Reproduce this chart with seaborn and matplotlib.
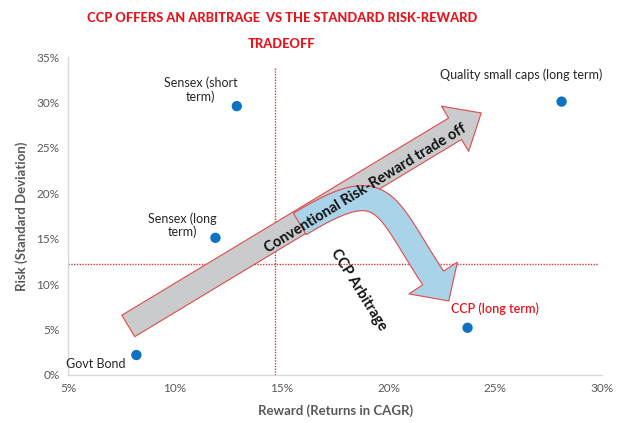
import matplotlib
matplotlib.use('Agg')
import matplotlib.pyplot as plt
import seaborn as sns
import pandas as pd
import numpy as np
from matplotlib.patches import FancyArrowPatch, Polygon
from matplotlib.ticker import FuncFormatter

# Data (percent)
assets = ['Govt Bond', 'Sensex (long\nterm)', 'Sensex (short\nterm)', 'CCP (long term)',
          'Quality small caps (long term)']
reward = [8.2, 11.9, 12.9, 23.7, 28.1]
risk = [2.2, 15.1, 29.6, 5.2, 30.1]
# label offsets in points relative to each point
label_offsets = [(-8, -6.5), (-24, 9), (-26, 12), (20, 14), (-29, 19)]

# reference cross lines
ref_reward = 14.7
ref_risk = 12.2

df = pd.DataFrame({'asset': assets, 'reward': reward, 'risk': risk})

sns.set_style('white')
plt.rcParams['font.family'] = ['Lato', 'DejaVu Sans']

fig = plt.figure(figsize=(6.24, 4.23), dpi=100)
ax = fig.add_axes([0.109, 0.1135, 0.856, 0.7515])
ax.set_xlim(5, 30)
ax.set_ylim(0, 35)

grey_txt = '#595959'
red = '#e8141c'
edge_red = '#e04a4a'

# dotted red reference lines
ax.vlines(ref_reward, 0, 33.8, colors='#d9383a', linestyles=(0, (1, 1)), linewidth=1, zorder=1)
ax.hlines(ref_risk, 5, 29.8, colors='#d9383a', linestyles=(0, (1, 1)), linewidth=1, zorder=1)

# grey conventional risk-reward arrow
grey_arrow = FancyArrowPatch((7.82, 5.4), (24.34, 28.85),
                             arrowstyle='simple,head_width=38,head_length=22,tail_width=18',
                             shrinkA=0, shrinkB=0, facecolor='#c9cbcc', edgecolor=edge_red,
                             linewidth=0.8, zorder=2)
ax.add_patch(grey_arrow)

# blue bent CCP arbitrage arrow: cubic centreline, widened in pixel space
ctrl = ax.transData.transform([(15.85, 16.63), (19.86, 22.36), (19.77, 18.94), (22.09, 10.68)])
tip = ax.transData.transform((22.82, 8.15))
t = np.linspace(0, 1, 60)[:, None]
p0, p1, p2, p3 = ctrl
curve = (1 - t) ** 3 * p0 + 3 * (1 - t) ** 2 * t * p1 + 3 * (1 - t) * t ** 2 * p2 + t ** 3 * p3
d = np.gradient(curve, axis=0)
d /= np.linalg.norm(d, axis=1)[:, None]
nrm = np.column_stack([-d[:, 1], d[:, 0]])
half, head_half = 12.5, 29
left = curve + nrm * half
right = curve - nrm * half
poly = np.vstack([left, p3 + nrm[-1] * head_half, tip, p3 - nrm[-1] * head_half, right[::-1]])
poly = ax.transData.inverted().transform(poly)
ax.add_patch(Polygon(poly, closed=True, facecolor='#a9d3e8', edgecolor=edge_red,
                     linewidth=0.8, zorder=3))

sns.scatterplot(data=df, x='reward', y='risk', ax=ax, color='#0b72c4', s=55,
                edgecolor='none', zorder=4, legend=False)

for name, x, y, off in zip(assets, reward, risk, label_offsets):
    is_ccp = name.startswith('CCP')
    ha = 'right' if name == 'Govt Bond' else 'center'
    ax.annotate(name, (x, y), xytext=off, textcoords='offset points', ha=ha, va='center',
                fontsize=9, color=red if is_ccp else '#262626',
                fontweight='semibold' if is_ccp else 'normal', linespacing=1.1, zorder=5)

ax.text(18.93, 20.5, 'Conventional Risk-Reward trade off', rotation=31.5, rotation_mode='anchor',
        ha='center', va='center', fontsize=10.5, fontweight='bold', color='#111111', zorder=6)
ax.text(18.6, 9.4, 'CCP Arbitrage', rotation=-58, rotation_mode='anchor',
        ha='center', va='center', fontsize=10.5, fontweight='bold', color='#111111', zorder=6)

ax.set_xticks([5, 10, 15, 20, 25, 30])
ax.set_yticks([0, 5, 10, 15, 20, 25, 30, 35])
pct = FuncFormatter(lambda v, p: f'{v:.0f}%')
ax.xaxis.set_major_formatter(pct)
ax.yaxis.set_major_formatter(pct)
ax.tick_params(axis='both', length=0, labelsize=8.5, labelcolor=grey_txt, pad=6)

for side in ['top', 'right']:
    ax.spines[side].set_visible(False)
for side in ['left', 'bottom']:
    ax.spines[side].set_color('#d9d9d9')
    ax.spines[side].set_linewidth(1)

ax.set_xlabel('Reward (Returns in CAGR)', fontsize=9.5, fontweight='bold', color=grey_txt, labelpad=7)
ax.set_ylabel('Risk (Standard Deviation)', fontsize=9.5, fontweight='bold', color=grey_txt, labelpad=6)

fig.text(282 / 624, 1 - 18 / 423, 'CCP OFFERS AN ARBITRAGE  VS THE STANDARD RISK-REWARD',
         ha='center', va='center', fontsize=9.3, fontweight='black', color=red)
fig.text(282 / 624, 1 - 44 / 423, 'TRADEOFF', ha='center', va='center', fontsize=9.3,
         fontweight='black', color=red)

fig.savefig('out.png', dpi=100)
